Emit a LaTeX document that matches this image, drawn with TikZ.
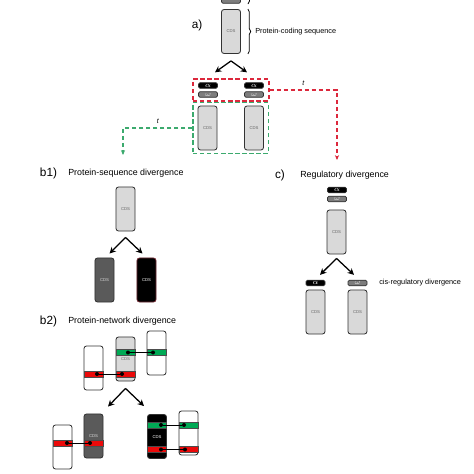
\documentclass[tikz,border=0pt]{standalone}
\usepackage{fontspec}
\setmainfont{Liberation Sans}
\usetikzlibrary{arrows.meta,calc,fit,decorations.pathreplacing}

\definecolor{cdsgray}{RGB}{217,217,217}
\definecolor{darkcds}{RGB}{90,90,90}
\definecolor{omegagray}{RGB}{125,125,125}
\definecolor{bandred}{RGB}{235,10,10}
\definecolor{bandgreen}{RGB}{0,170,85}
\definecolor{dashred}{RGB}{220,40,60}
\definecolor{dashgreen}{RGB}{60,170,110}
\definecolor{edgered}{RGB}{110,40,50}

\tikzset{
	gene/.style={draw=black!80, line width=0.6pt, rounded corners=1.8pt, minimum width=0.475cm, minimum height=1.1cm, inner sep=0pt, font=\fontsize{3}{3}\selectfont},
	cds/.style={gene, fill=cdsgray, text=black!60},
	cdsdark/.style={gene, fill=darkcds, text=black!15},
	cdsblack/.style={gene, fill=black, text=white},
	partner/.style={gene, fill=white},
	alphabox/.style={draw=black!80, line width=0.5pt, rounded corners=1pt, fill=black, text=white, minimum width=0.475cm, minimum height=0.14cm, inner sep=0pt, font=\fontsize{3.5}{3.5}\selectfont},
	omegabox/.style={alphabox, fill=omegagray, text=black!15},
	band/.style={draw=black!70, line width=0.4pt, minimum width=0.475cm, minimum height=0.16cm, inner sep=0pt},
	dot/.style={circle, fill=black, inner sep=0pt, minimum size=0.1cm},
	link/.style={line width=0.6pt},
	fork/.style={-{Stealth[length=4.5pt,width=4.5pt]}, line width=0.9pt},
	regframe/.style={draw=dashred, dash pattern=on 3pt off 2pt, line width=1pt, inner xsep=0.125cm, inner ysep=0.08cm},
	seqframe/.style={draw=dashgreen, dash pattern=on 3pt off 2pt, line width=1pt, inner xsep=0.11cm, inner ysep=0.075cm},
	regline/.style={dashred, dash pattern=on 3pt off 2pt, line width=1pt, -{Stealth[length=3.5pt,width=3pt]}},
	seqline/.style={dashgreen, dash pattern=on 3pt off 2pt, line width=1pt, -{Stealth[length=3.5pt,width=3pt]}},
	brace/.style={decorate, decoration={brace, amplitude=2pt}, line width=0.5pt},
	heading/.style={font=\fontsize{8.4}{9}\selectfont, inner sep=0pt},
	title/.style={font=\fontsize{6.3}{7}\selectfont, anchor=west, inner sep=0pt},
	note/.style={font=\fontsize{5.2}{6}\selectfont, anchor=west, inner sep=0pt}
}

\begin{document}
\begin{tikzpicture}[x=0.025cm, y=-0.025cm]
	\path[use as bounding box, fill=white] (0,0) rectangle (474,474);

	% a) ancestral gene (its top is cut by the page edge)
	\node[omegabox] (aTopW) at (231,0.5) {};
	\draw[brace] (248,-12) -- (248,4);
	\node[heading] (ha) at (197,25) {a)};
	\node[cds] (aC) at (231,31.5) {CDS};
	\draw[brace] ($(aC.north east)+(7,0)$) -- ($(aC.south east)+(7,0)$);
	\node[note] (tcoding) at (255,31.5) {Protein-coding sequence};

	\node[alphabox] (aA1) at (208,85.5) {$\alpha$};
	\node[alphabox] (aA2) at (254,85.5) {$\alpha$};
	\node[omegabox] (aW1) at (208,94.5) {$\omega$};
	\node[omegabox] (aW2) at (254,94.5) {$\omega$};
	\node[cds] (aC1) at (207.5,128) {CDS};
	\node[cds] (aC2) at (254,128) {CDS};
	\draw[fork] ($(aC.south)+(0,7)$) -- ($(aA1.north)+(7,-10)$);
	\draw[fork] ($(aC.south)+(0,7)$) -- ($(aA2.north)+(-7,-10)$);

	\node[regframe, fit=(aA1)(aA2)(aW1)(aW2)] (regbox) {};
	\node[seqframe, fit=(aC1)(aC2)] (seqbox) {};
	\coordinate (regend) at (337,160);
	\coordinate (seqend) at (123,155);
	\draw[regline] (regbox.east) -| node[pos=0.25, above=-1pt, font=\fontsize{5}{5}\selectfont\itshape, text=black] {t} (regend);
	\draw[seqline] (seqbox.west) -| node[pos=0.25, above=-1pt, font=\fontsize{5}{5}\selectfont\itshape, text=black] {t} (seqend);

	% b1) protein-sequence divergence
	\node[heading] (hb1) at (48.5,173) {b1)};
	\node[title] (tb1) at (68,173) {Protein-sequence divergence};
	\node[cds] (b1C) at (125.5,209) {CDS};
	\node[cdsdark] (b1D) at (104.5,280) {CDS};
	\node[cdsblack, draw=edgered] (b1B) at (146.5,280) {CDS};
	\draw[fork] ($(b1C.south)+(0,6)$) -- ($(b1D.north)+(5,-4)$);
	\draw[fork] ($(b1C.south)+(0,6)$) -- ($(b1B.north)+(-4,-4)$);

	% c) regulatory divergence
	\node[heading] (hc) at (280,175) {c)};
	\node[title] (tc) at (300,175) {Regulatory divergence};
	\node[alphabox] (cA) at (337,190) {$\alpha$};
	\node[omegabox] (cW) at (337,199) {$\omega$};
	\node[cds] (cC) at (336.5,232) {CDS};
	\node[alphabox] (cA1) at (315.5,283) {$\alpha$};
	\node[omegabox] (cW2) at (357.5,283) {$\omega$};
	\node[cds] (cC1) at (315.5,312) {CDS};
	\node[cds] (cC2) at (357.5,312) {CDS};
	\draw[fork] ($(cC.south)+(0,4)$) -- ($(cA1.north)+(4.5,-5)$);
	\draw[fork] ($(cC.south)+(0,4)$) -- ($(cW2.north)+(-3.5,-5)$);
	\node[note] (tcis) at (379,283) {cis-regulatory divergence};

	% b2) protein-network divergence
	\node[heading] (hb2) at (48.5,321) {b2)};
	\node[title] (tb2) at (68,321) {Protein-network divergence};
	\node[cds] (nC) at (125.5,359) {CDS};
	\node[partner] (nL) at (93.5,368) {};
	\node[partner] (nR) at (156.5,353) {};
	\node[band, fill=bandgreen] (nCg) at (125.5,352.5) {};
	\node[band, fill=bandgreen] (nRg) at (156.5,352.5) {};
	\node[band, fill=bandred] (nCr) at (125.5,374) {};
	\node[band, fill=bandred] (nLr) at (93.5,374) {};
	\node[dot] (n1) at (128,352.5) {};
	\node[dot] (n2) at (153,352.5) {};
	\node[dot] (n3) at (97,374) {};
	\node[dot] (n4) at (122,374) {};
	\draw[link] (n1) -- (n2);
	\draw[link] (n3) -- (n4);

	\node[partner] (lL) at (62.5,447) {};
	\node[cdsdark] (lC) at (93.5,436) {};
	\node[band, fill=bandred] (lLr) at (62.5,443) {};
	\node[band, fill=bandred] (lCr) at (93.5,443) {};
	\node[text=black!15, font=\fontsize{3}{3}\selectfont] (lCt) at (93.5,436) {CDS};
	\node[dot] (l1) at (67,443) {};
	\node[dot] (l2) at (90,443) {};
	\draw[link] (l1) -- (l2);

	\node[cdsblack] (rC) at (157,436.5) {};
	\node[partner] (rR) at (188.5,433) {};
	\node[band, fill=bandgreen] (rCg) at (157,425) {};
	\node[band, fill=bandgreen] (rRg) at (188.5,425) {};
	\node[band, fill=bandred] (rCr) at (157,449.5) {};
	\node[band, fill=bandred] (rRr) at (188.5,449.5) {};
	\node[text=white, font=\fontsize{3}{3}\selectfont] (rCt) at (157,437) {CDS};
	\node[dot] (r1) at (161,425) {};
	\node[dot] (r2) at (184,425) {};
	\node[dot] (r3) at (161,449.5) {};
	\node[dot] (r4) at (185,449.5) {};
	\draw[link] (r1) -- (r2);
	\draw[link] (r3) -- (r4);

	\draw[fork] ($(nC.south)+(0,7)$) -- ($(lC.north)+(14.5,-7)$);
	\draw[fork] ($(nC.south)+(0,7)$) -- ($(rC.north)+(-13,-8)$);
\end{tikzpicture}
\end{document}
